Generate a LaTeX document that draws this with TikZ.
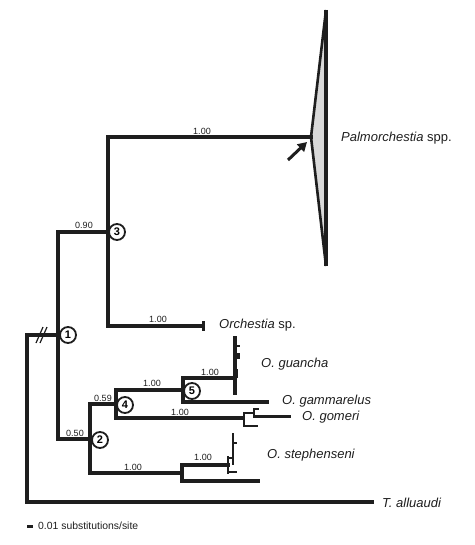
\documentclass[tikz,border=0pt]{standalone}
\usepackage{fontspec}
\setmainfont{Liberation Sans}
\usetikzlibrary{arrows.meta}
\definecolor{tc}{HTML}{1E1E1E}
\definecolor{tri}{HTML}{D9D9D9}
\begin{document}
\begin{tikzpicture}[x=1pt,y=-1pt,
  br/.style={line width=3.1pt, draw=tc, line join=miter, line cap=rect},
  fine/.style={line width=2.2pt, draw=tc, line cap=rect},
  nc/.style={circle, draw=tc, line width=1.8pt, fill=white, minimum size=16pt, inner sep=0pt, font=\fontsize{11}{11}\selectfont\bfseries},
  sup/.style={font=\fontsize{9}{9}\selectfont, text=tc, inner sep=0pt},
  tax/.style={font=\fontsize{13}{13}\selectfont, text=tc, inner sep=0pt, anchor=west},
]
\useasboundingbox (0,0) rectangle (474,545);
% junction coordinates
\coordinate (r) at (27,335);
\coordinate (rb) at (27,502);
\coordinate (tall) at (372,502);
\coordinate (n1) at (58,335);
\coordinate (n1t) at (58,232);
\coordinate (n1b) at (58,439);
\coordinate (n3) at (108,232);
\coordinate (n3t) at (108,137);
\coordinate (n3b) at (108,326);
\coordinate (apex) at (311,137);
\coordinate (trt) at (326,10);
\coordinate (trb) at (326,266);
\coordinate (orch) at (203,326);
\coordinate (n2) at (90,439);
\coordinate (n2t) at (90,404);
\coordinate (n2b) at (90,473);
\coordinate (n4) at (116,404);
\coordinate (n4t) at (116,390);
\coordinate (n4b) at (116,418);
\coordinate (n5) at (183,390);
\coordinate (n5t) at (183,378);
\coordinate (n5b) at (183,402);
\coordinate (guan) at (235,378);
\coordinate (gamm) at (267,402);
\coordinate (gome) at (243,418);
\coordinate (st) at (182,473);
\coordinate (stt) at (182,465);
\coordinate (stb) at (182,481);
\coordinate (stend) at (228,465);
\coordinate (stlow) at (258,481);

% collapsed Palmorchestia clade
\fill[tri] (apex) -- (trt) -- (trb) -- cycle;
\draw[line width=2.6pt, draw=tc, line join=miter] (trt) -- (apex) -- (trb);
\draw[line width=4pt, draw=tc] (trt) -- (trb);

% tree branches
\draw[br] (tall) -- (rb) -- (r) -- (n1);
\draw[br] (n3) -- (n1t) -- (n1b) -- (n2);
\draw[br] (apex) -- (n3t) -- (n3b) -- (orch);
\draw[line width=3pt, draw=tc] (203,321) -- (203,331);
\draw[br] (n4) -- (n2t) -- (n2b) -- (st);
\draw[br] (n5) -- (n4t) -- (n4b) -- (gome);
\draw[br] (guan) -- (n5t) -- (n5b) -- (gamm);
\draw[br] (stend) -- (stt) -- (stb) -- (stlow);

% O. guancha clade
\draw[br] (235,338) -- (235,393);
\draw[fine] (235,346) -- (239,346);
\fill[tc] (235,353) rectangle (240,359);
\fill[tc] (233,369) rectangle (238,378);

% O. gomeri clade
\draw[fine] (244,414) -- (244,426);
\draw[fine] (244,413) -- (254,413);
\draw[fine] (254,409) -- (254,417);
\draw[fine] (254,409) -- (258,409);
\draw[fine] (254,416.5) -- (290,416.5);
\draw[fine] (244,426) -- (257,426);

% O. stephenseni clade
\draw[fine] (228,457) -- (228,473);
\draw[fine] (228,458) -- (233,458);
\draw[fine] (233,434) -- (233,464);
\draw[fine] (233,443) -- (236,443);
\draw[fine] (228,472) -- (236,472);

% long-branch break marks
\draw[line width=1.2pt, draw=tc] (36,343) -- (43,327);
\draw[line width=1.2pt, draw=tc] (40,343) -- (47,327);

% arrow to the collapsed clade
\draw[line width=3pt, draw=tc, -{Triangle[length=9pt,width=10pt]}] (288,160) -- (307,142);

% node numbers
\node[nc] (c1) at (68,335) {1};
\node[nc] (c3) at (117,232) {3};
\node[nc] (c2) at (100,440) {2};
\node[nc] (c4) at (125,405) {4};
\node[nc] (c5) at (192,391) {5};

% support values
\node[sup] (s090) at (84,225) {0.90};
\node[sup] (s100a) at (202,131) {1.00};
\node[sup] (s100b) at (158,319) {1.00};
\node[sup] (s050) at (75,433) {0.50};
\node[sup] (s059) at (103,398) {0.59};
\node[sup] (s100c) at (152,383) {1.00};
\node[sup] (s100d) at (210,372) {1.00};
\node[sup] (s100e) at (180,412) {1.00};
\node[sup] (s100f) at (133,467) {1.00};
\node[sup] (s100g) at (203,457) {1.00};

% taxon labels
\node[tax] (tpalm) at (341,138) {\textit{Palmorchestia} spp.};
\node[tax] (torch) at (219,325) {\textit{Orchestia} sp.};
\node[tax] (tguan) at (261,364) {\textit{O. guancha}};
\node[tax] (tgamm) at (282,401) {\textit{O. gammarelus}};
\node[tax] (tgome) at (302,417) {\textit{O. gomeri}};
\node[tax] (tstep) at (267,455) {\textit{O. stephenseni}};
\node[tax] (tallu) at (382,503) {\textit{T. alluaudi}};

% scale bar
\coordinate (sb1) at (27,526);
\coordinate (sb2) at (33,526);
\draw[line width=3pt, draw=tc] (sb1) -- (sb2);
\node[font=\fontsize{10.4}{10.4}\selectfont, text=tc, inner sep=0pt, anchor=west] (scale) at (38,526) {0.01 substitutions/site};
\end{tikzpicture}
\end{document}
